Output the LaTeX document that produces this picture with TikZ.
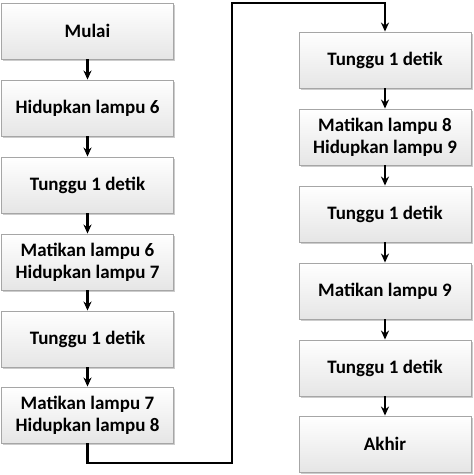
\documentclass[tikz,border=0pt]{standalone}
\usepackage{fontspec}
\setmainfont{Carlito}
\usetikzlibrary{arrows.meta,shadows}

\begin{document}
\begin{tikzpicture}[x=1pt,y=-1pt,
    langkah/.style={draw=gray!70, line width=0.9pt, top color=white, bottom color=gray!20,
      minimum width=172pt, minimum height=56pt, align=center,
      font=\fontsize{19}{22}\selectfont\bfseries,
      drop shadow={shadow xshift=1.5pt, shadow yshift=-1.5pt, opacity=0.4, fill=gray}},
    panah/.style={-{Stealth[length=9pt,width=8pt]}, line width=2.2pt}]
    \useasboundingbox[fill=white] (0,0) rectangle (474,475);

    % Kolom kiri
    \node[langkah] (mulai) at (87.5,31) {Mulai};
    \node[langkah] (hidup6) at (87.5,108) {Hidupkan lampu 6};
    \node[langkah] (tunggu1) at (87.5,185) {Tunggu 1 detik};
    \node[langkah] (mati6) at (87.5,262) {Matikan lampu 6\\Hidupkan lampu 7};
    \node[langkah] (tunggu2) at (87.5,339) {Tunggu 1 detik};
    \node[langkah] (mati7) at (87.5,415) {Matikan lampu 7\\Hidupkan lampu 8};

    % Kolom kanan
    \node[langkah] (tunggu3) at (385,60) {Tunggu 1 detik};
    \node[langkah] (mati8) at (385,137) {Matikan lampu 8\\Hidupkan lampu 9};
    \node[langkah] (tunggu4) at (385,214) {Tunggu 1 detik};
    \node[langkah] (mati9) at (385,291) {Matikan lampu 9};
    \node[langkah] (tunggu5) at (385,368) {Tunggu 1 detik};
    \node[langkah] (akhir) at (385,444) {Akhir};

    % Panah antar langkah
    \draw[panah] (mulai) -- (hidup6);
    \draw[panah] (hidup6) -- (tunggu1);
    \draw[panah] (tunggu1) -- (mati6);
    \draw[panah] (mati6) -- (tunggu2);
    \draw[panah] (tunggu2) -- (mati7);
    \draw[panah] (tunggu3) -- (mati8);
    \draw[panah] (mati8) -- (tunggu4);
    \draw[panah] (tunggu4) -- (mati9);
    \draw[panah] (mati9) -- (tunggu5);
    \draw[panah] (tunggu5) -- (akhir);

    % Sambungan ke kolom kanan
    \coordinate (bawah) at (232,463);
    \coordinate (atas) at (232,3);
    \draw[panah] (mati7.south) |- (bawah) -- (atas) -| (tunggu3.north);
\end{tikzpicture}
\end{document}
